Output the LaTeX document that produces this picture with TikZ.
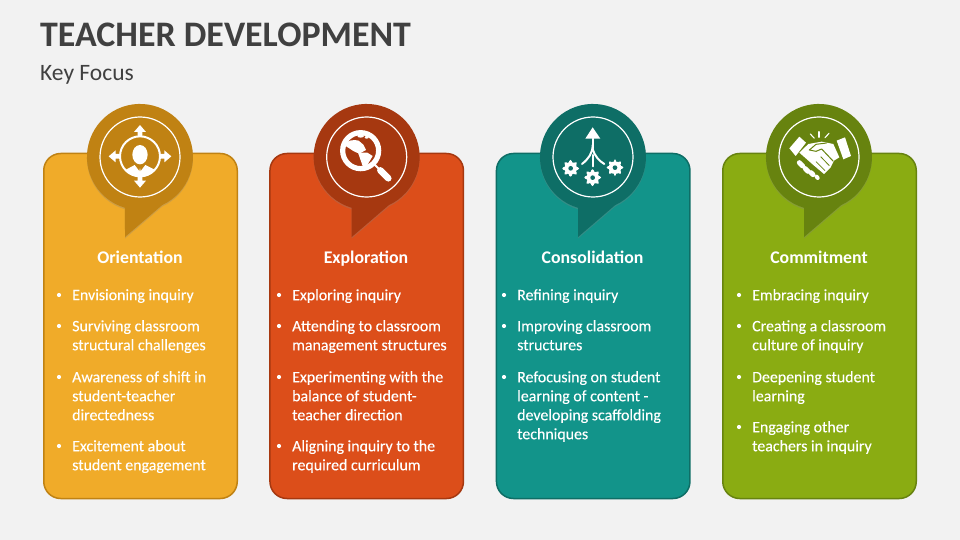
\documentclass[tikz,border=0pt]{standalone}
\usepackage{fontspec}
\setmainfont{Carlito}
\newfontfamily\entryfont{Carlito}[FakeBold=0.2]
\usetikzlibrary{shadows}
\definecolor{pagegray}{HTML}{F2F2F2}
\definecolor{titlegray}{HTML}{404040}
\definecolor{orangeA}{HTML}{F0AB29}
\definecolor{orangeB}{HTML}{C08213}
\definecolor{redA}{HTML}{DC4E1A}
\definecolor{redB}{HTML}{A63810}
\definecolor{tealA}{HTML}{12948A}
\definecolor{tealB}{HTML}{0E6E66}
\definecolor{greenA}{HTML}{8AAC12}
\definecolor{greenB}{HTML}{67830F}
\tikzset{
  card/.style={rectangle, rounded corners=17pt, line width=1.5pt, minimum width=193.5pt, minimum height=345pt, inner sep=0pt},
  bubble/.style={drop shadow={shadow xshift=0pt, shadow yshift=-1.5pt, opacity=.3}},
  ring/.style={shape=circle, draw=white, line width=1.2pt, minimum size=80pt, inner sep=0pt},
  heading/.style={text=white, anchor=base, inner sep=0pt, font=\fontsize{17.8}{19}\selectfont\bfseries},
  bullet/.style={shape=circle, fill=white, minimum size=4.2pt, inner sep=0pt},
  entry/.style={text=white, anchor=north west, inner sep=0pt, align=left, font=\fontsize{15.9}{19}\selectfont\entryfont},
  icon/.style={x=0.3333pt, y=-0.3333pt},
  thickwhite/.style={draw=white, line cap=round, line join=round}
}
\begin{document}
\begin{tikzpicture}[x=1pt, y=-1pt]
\path[use as bounding box, fill=pagegray] (0,0) rectangle (960,540);
\node[anchor=base west, inner sep=0pt, text=titlegray, font=\fontsize{35.9}{40}\selectfont\bfseries] (title) at (40,46.5) {TEACHER DEVELOPMENT};
\node[anchor=base west, inner sep=0pt, text=titlegray, font=\fontsize{23.5}{24}\selectfont] (subtitle) at (40,81) {Key Focus};
% cards
\node[card, fill=orangeA, draw=orangeB] (card1) at (140.5,326) {};
\node[card, fill=redA, draw=redB] (card2) at (366.7,326) {};
\node[card, fill=tealA, draw=tealB] (card3) at (593.2,326) {};
\node[card, fill=greenA, draw=greenB] (card4) at (819.5,326) {};
% bubbles
\path[bubble, fill=orangeB] (162.1,205.1) arc[start angle=65.3, end angle=-253.6, radius=53] -- (125,237) -- cycle;
\path[bubble, fill=redB] (388.8,205.1) arc[start angle=65.3, end angle=-253.6, radius=53] -- (351.7,237) -- cycle;
\path[bubble, fill=tealB] (615.1,205.1) arc[start angle=65.3, end angle=-253.6, radius=53] -- (578,237) -- cycle;
\path[bubble, fill=greenB] (841.1,205.1) arc[start angle=65.3, end angle=-253.6, radius=53] -- (804,237) -- cycle;
\node[ring] (ring1) at (140,157) {};
\node[ring] (ring2) at (366.7,157) {};
\node[ring] (ring3) at (593,157) {};
\node[ring] (ring4) at (819,157) {};
% icon orientation
\begin{scope}[shift={(100,118)}, icon]
\draw[white, line width=2pt] (120,115) circle[radius=60];
\fill[white] (120,110) ellipse[x radius=23, y radius=29];
\fill[white] (76,156) -- (104,141) -- (120,162) -- (136,141) -- (166,156) .. controls (145,184) and (97,184) .. (76,156) -- cycle;
\fill[white] (120,150) -- (125,172) -- (115,172) -- cycle;
\foreach \ang in {0,90,180,270}{
  \fill[white, rotate around={\ang:(120,115)}] (113,56) -- (113,42) -- (102,42) -- (120,21) -- (138,42) -- (127,42) -- (127,56) -- cycle;
}
\end{scope}
% icon exploration
\begin{scope}[shift={(330,120)}, icon]
\draw[white, line width=5.2pt] (92,92) circle[radius=54];
\draw[thickwhite, line width=6.5pt] (151,151) -- (175,175);
\draw[white, line width=2pt] (130,130) -- (150,150);
\fill[white] (42,74) .. controls (52,60) and (72,58) .. (86,62) -- (100,74) -- (108,90) -- (90,100) .. controls (76,100) and (64,88) .. (50,80) -- cycle;
\fill[white] (84,98) -- (112,98) -- (128,108) -- (118,125) -- (106,146) -- (98,138) -- (90,115) -- cycle;
\fill[white] (92,48) ellipse[x radius=10, y radius=5];
\fill[white] (110,52) ellipse[x radius=6, y radius=4];
\end{scope}
% icon consolidation
\begin{scope}[shift={(490,95)}, icon]
\fill[white] (308,97) -- (331,131) -- (286,131) -- cycle;
\draw[thickwhite, line width=2pt] (308,131) -- (308,160);
\draw[thickwhite, line width=2pt] (308,150) .. controls (308,175) and (295,192) .. (276,207);
\draw[thickwhite, line width=2pt] (308,162) .. controls (315,185) and (328,198) .. (343,207);
\draw[thickwhite, line width=2pt] (308,180) -- (308,214);
\foreach \gx/\gy in {242/220, 308/248, 375/218}{
  \fill[white] (\gx,\gy) circle[radius=19];
  \foreach \ang in {0,45,...,315}{
    \draw[white, line width=2.8pt, line cap=round] (\gx,\gy) ++(\ang:15) -- ++(\ang:6);
  }
  \fill[tealB] (\gx,\gy) circle[radius=7];
}
\end{scope}
% icon commitment
\begin{scope}[shift={(780,120)}, icon]
\fill[white] (28,85) -- (58,50) -- (78,68) -- (47,108) -- cycle;
\fill[white] (170,62) -- (195,52) -- (213,108) -- (190,118) -- cycle;
\draw[thickwhite, line width=1.1pt] (91,42) -- (103,55);
\draw[thickwhite, line width=1.1pt] (117,35) -- (117,52);
\draw[thickwhite, line width=1.1pt] (147,40) -- (135,53);
\fill[white] (58,98) -- (85,72) -- (125,65) -- (160,72) -- (178,112) -- (162,122) -- (152,142) -- (132,162) -- (100,135) -- cycle;
\draw[greenB, line width=1pt, line join=round] (160,124) -- (125,87) -- (108,94) -- (88,90) -- (108,73) -- (140,69);
\draw[greenB, line width=.8pt] (148,137) -- (122,110);
\draw[greenB, line width=.8pt] (135,152) -- (108,125);
\draw[thickwhite, line width=5pt] (58,128) -- (68,138);
\draw[thickwhite, line width=5pt] (76,146) -- (84,154);
\draw[thickwhite, line width=5pt] (93,158) -- (99,164);
\draw[thickwhite, line width=4pt] (110,170) -- (113,174);
\end{scope}
% headings
\node[heading] (head1) at (140,263) {Orientation};
\node[heading] (head2) at (366,263) {Exploration};
\node[heading] (head3) at (592.5,263) {Consolidation};
\node[heading] (head4) at (819,263) {Commitment};
% orientation text
\node[bullet] (b11) at (59,295) {};
\node[entry] (t11) at (72,289) {Envisioning inquiry};
\node[bullet] (b12) at (59,326) {};
\node[entry] (t12) at (72,320) {Surviving classroom\\structural challenges};
\node[bullet] (b13) at (59,377) {};
\node[entry] (t13) at (72,371) {Awareness of shift in\\student-teacher\\directedness};
\node[bullet] (b14) at (59,446) {};
\node[entry] (t14) at (72,440) {Excitement about\\student engagement};
% exploration text
\node[bullet] (b21) at (279,295) {};
\node[entry] (t21) at (292,289) {Exploring inquiry};
\node[bullet] (b22) at (279,326) {};
\node[entry] (t22) at (292,320) {Attending to classroom\\management structures};
\node[bullet] (b23) at (279,377) {};
\node[entry] (t23) at (292,371) {Experimenting with the\\balance of student-\\teacher direction};
\node[bullet] (b24) at (279,446) {};
\node[entry] (t24) at (292,440) {Aligning inquiry to the\\required curriculum};
% consolidation text
\node[bullet] (b31) at (504,295) {};
\node[entry] (t31) at (517,289) {Refining inquiry};
\node[bullet] (b32) at (504,326) {};
\node[entry] (t32) at (517,320) {Improving classroom\\structures};
\node[bullet] (b33) at (504,377) {};
\node[entry] (t33) at (517,371) {Refocusing on student\\learning of content -\\developing scaffolding\\techniques};
% commitment text
\node[bullet] (b41) at (739,295) {};
\node[entry] (t41) at (752,289) {Embracing inquiry};
\node[bullet] (b42) at (739,326) {};
\node[entry] (t42) at (752,320) {Creating a classroom\\culture of inquiry};
\node[bullet] (b43) at (739,377) {};
\node[entry] (t43) at (752,371) {Deepening student\\learning};
\node[bullet] (b44) at (739,427) {};
\node[entry] (t44) at (752,421) {Engaging other\\teachers in inquiry};
\end{tikzpicture}
\end{document}
